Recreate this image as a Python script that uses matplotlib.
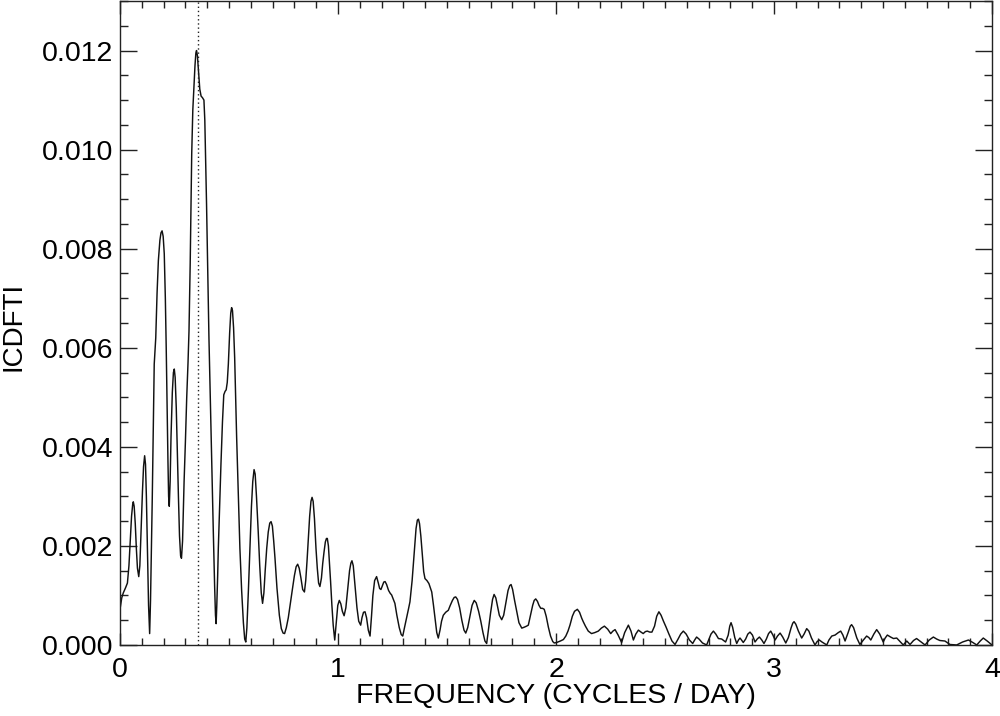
import matplotlib
matplotlib.use("Agg")
import matplotlib.pyplot as plt
from matplotlib.ticker import MultipleLocator, FormatStrFormatter

# ---- data (frequency in cycles/day, |CDFT|) ----
freq = [
    0.000, 0.008, 0.015, 0.025, 0.034, 0.041, 0.047, 0.053, 0.058, 0.061,
    0.065, 0.070, 0.075, 0.080, 0.086, 0.091, 0.096, 0.103, 0.108, 0.113,
    0.117, 0.121, 0.126, 0.131, 0.136, 0.140, 0.144, 0.148, 0.153, 0.157,
    0.164, 0.170, 0.176, 0.183, 0.188, 0.193, 0.198, 0.203, 0.208, 0.212,
    0.216, 0.220, 0.223, 0.226, 0.230, 0.234, 0.240, 0.245, 0.249, 0.253,
    0.258, 0.263, 0.268, 0.273, 0.278, 0.282, 0.287, 0.294, 0.300, 0.306,
    0.312, 0.3165, 0.322, 0.329, 0.334, 0.339, 0.344, 0.348, 0.351, 0.355,
    0.360, 0.366, 0.372, 0.378, 0.385, 0.389, 0.393, 0.397, 0.401, 0.405,
    0.408, 0.412, 0.416, 0.422, 0.428, 0.434, 0.438, 0.441, 0.444, 0.448,
    0.451, 0.457, 0.463, 0.470, 0.476, 0.482, 0.487, 0.492, 0.497, 0.503,
    0.508, 0.512, 0.516, 0.521, 0.526, 0.531, 0.535, 0.543, 0.550, 0.558,
    0.566, 0.572, 0.577, 0.582, 0.589, 0.596, 0.603, 0.609, 0.615, 0.620,
    0.626, 0.634, 0.641, 0.648, 0.654, 0.660, 0.666, 0.673, 0.680, 0.687,
    0.693, 0.699, 0.705, 0.711, 0.720, 0.731, 0.740, 0.748, 0.755, 0.763,
    0.772, 0.780, 0.790, 0.800, 0.808, 0.815, 0.822, 0.830, 0.838, 0.846,
    0.852, 0.858, 0.864, 0.870, 0.876, 0.881, 0.886, 0.892, 0.899, 0.905,
    0.911, 0.917, 0.924, 0.930, 0.936, 0.942, 0.947, 0.951, 0.956, 0.961,
    0.966, 0.972, 0.978, 0.985, 0.992, 0.999, 1.006, 1.013, 1.020, 1.028,
    1.036, 1.045, 1.053, 1.059, 1.064, 1.070, 1.078, 1.087, 1.095, 1.104,
    1.110, 1.117, 1.124, 1.131, 1.139, 1.147, 1.154, 1.160, 1.168, 1.177,
    1.185, 1.191, 1.197, 1.204, 1.210, 1.216, 1.223, 1.232, 1.240, 1.246,
    1.254, 1.261, 1.270, 1.281, 1.290, 1.297, 1.305, 1.315, 1.323, 1.330,
    1.340, 1.350, 1.358, 1.364, 1.369, 1.374, 1.380, 1.387, 1.393, 1.399,
    1.408, 1.417, 1.424, 1.430, 1.438, 1.446, 1.453, 1.460, 1.468, 1.475,
    1.483, 1.494, 1.506, 1.515, 1.525, 1.533, 1.540, 1.548, 1.558, 1.568,
    1.578, 1.586, 1.595, 1.605, 1.615, 1.625, 1.634, 1.645, 1.655, 1.665,
    1.674, 1.682, 1.690, 1.700, 1.709, 1.716, 1.724, 1.732, 1.740, 1.751,
    1.760, 1.770, 1.780, 1.788, 1.794, 1.801, 1.810, 1.820, 1.830, 1.843,
    1.855, 1.865, 1.873, 1.883, 1.893, 1.900, 1.907, 1.915, 1.922, 1.930,
    1.938, 1.946, 1.955, 1.965, 1.975, 1.985, 1.992, 2.003, 2.020, 2.034,
    2.045, 2.055, 2.064, 2.075, 2.085, 2.098, 2.108, 2.118, 2.125, 2.135,
    2.148, 2.163, 2.178, 2.194, 2.208, 2.222, 2.237, 2.251, 2.261, 2.271,
    2.285, 2.301, 2.315, 2.332, 2.344, 2.355, 2.366, 2.378, 2.390, 2.400,
    2.410, 2.419, 2.430, 2.440, 2.452, 2.462, 2.472, 2.482, 2.493, 2.505,
    2.518, 2.532, 2.546, 2.560, 2.572, 2.584, 2.597, 2.612, 2.627, 2.636,
    2.645, 2.656, 2.672, 2.691, 2.700, 2.711, 2.722, 2.733, 2.745, 2.760,
    2.778, 2.790, 2.797, 2.803, 2.810, 2.820, 2.829, 2.837, 2.844, 2.851,
    2.859, 2.870, 2.880, 2.890, 2.901, 2.913, 2.923, 2.933, 2.944, 2.954,
    2.965, 2.975, 2.985, 2.995, 3.005, 3.016, 3.028, 3.040, 3.054, 3.066,
    3.078, 3.086, 3.092, 3.100, 3.112, 3.127, 3.138, 3.150, 3.160, 3.172,
    3.188, 3.198, 3.208, 3.220, 3.242, 3.252, 3.265, 3.280, 3.295, 3.306,
    3.316, 3.326, 3.340, 3.350, 3.356, 3.365, 3.380, 3.394, 3.410, 3.425,
    3.435, 3.444, 3.458, 3.471, 3.485, 3.501, 3.510, 3.520, 3.535, 3.548,
    3.563, 3.578, 3.593, 3.609, 3.624, 3.640, 3.654, 3.672, 3.693, 3.712,
    3.731, 3.746, 3.761, 3.784, 3.807, 3.838, 3.865, 3.892, 3.912, 3.930,
    3.946, 3.960, 3.978, 4.000,
]

power = [
    0.00072, 0.00095, 0.00105, 0.00115, 0.00125, 0.00160, 0.00210, 0.00260, 0.00283, 0.00289,
    0.00280, 0.00245, 0.00195, 0.00155, 0.00138, 0.00160, 0.00225, 0.00310, 0.00360, 0.00382,
    0.00365, 0.00300, 0.00190, 0.00080, 0.00023, 0.00090, 0.00190, 0.00296, 0.00450, 0.00567,
    0.00620, 0.00710, 0.00776, 0.00817, 0.00832, 0.00836, 0.00825, 0.00790, 0.00700, 0.00600,
    0.00480, 0.00370, 0.00300, 0.00280, 0.00330, 0.00420, 0.00510, 0.00550, 0.00557, 0.00540,
    0.00480, 0.00390, 0.00300, 0.00220, 0.00180, 0.00175, 0.00210, 0.00330, 0.00410, 0.00499,
    0.00570, 0.00634, 0.00770, 0.00992, 0.01080, 0.01127, 0.01170, 0.01195, 0.01200, 0.01190,
    0.01160, 0.01122, 0.01108, 0.01105, 0.01100, 0.01060, 0.00979, 0.00890, 0.00790, 0.00690,
    0.00620, 0.00540, 0.00465, 0.00340, 0.00229, 0.00120, 0.00060, 0.00043, 0.00080, 0.00140,
    0.00195, 0.00280, 0.00364, 0.00450, 0.00505, 0.00512, 0.00515, 0.00530, 0.00567, 0.00630,
    0.00670, 0.00681, 0.00675, 0.00640, 0.00580, 0.00490, 0.00420, 0.00300, 0.00195, 0.00110,
    0.00045, 0.00012, 0.00006, 0.00035, 0.00110, 0.00195, 0.00280, 0.00330, 0.00354, 0.00345,
    0.00300, 0.00229, 0.00160, 0.00105, 0.00084, 0.00105, 0.00150, 0.00195, 0.00228, 0.00246,
    0.00249, 0.00240, 0.00210, 0.00175, 0.00115, 0.00060, 0.00033, 0.00024, 0.00023, 0.00035,
    0.00055, 0.00080, 0.00110, 0.00140, 0.00158, 0.00163, 0.00155, 0.00135, 0.00112, 0.00107,
    0.00130, 0.00170, 0.00215, 0.00260, 0.00290, 0.00298, 0.00290, 0.00255, 0.00195, 0.00155,
    0.00125, 0.00118, 0.00135, 0.00165, 0.00188, 0.00208, 0.00215, 0.00215, 0.00200, 0.00165,
    0.00128, 0.00080, 0.00040, 0.00010, 0.00045, 0.00080, 0.00090, 0.00083, 0.00068, 0.00059,
    0.00075, 0.00115, 0.00150, 0.00165, 0.00170, 0.00160, 0.00120, 0.00075, 0.00048, 0.00040,
    0.00055, 0.00066, 0.00067, 0.00055, 0.00030, 0.00018, 0.00060, 0.00100, 0.00130, 0.00138,
    0.00125, 0.00114, 0.00112, 0.00120, 0.00127, 0.00128, 0.00122, 0.00110, 0.00104, 0.00101,
    0.00092, 0.00084, 0.00060, 0.00035, 0.00021, 0.00018, 0.00035, 0.00055, 0.00072, 0.00087,
    0.00130, 0.00190, 0.00235, 0.00252, 0.00254, 0.00245, 0.00220, 0.00180, 0.00148, 0.00134,
    0.00130, 0.00124, 0.00115, 0.00107, 0.00080, 0.00050, 0.00025, 0.00014, 0.00030, 0.00048,
    0.00060, 0.00066, 0.00070, 0.00080, 0.00090, 0.00096, 0.00097, 0.00092, 0.00075, 0.00050,
    0.00030, 0.00024, 0.00035, 0.00058, 0.00080, 0.00090, 0.00085, 0.00068, 0.00048, 0.00025,
    0.00008, 0.00003, 0.00030, 0.00065, 0.00092, 0.00102, 0.00095, 0.00078, 0.00060, 0.00051,
    0.00060, 0.00085, 0.00110, 0.00120, 0.00122, 0.00112, 0.00090, 0.00067, 0.00045, 0.00034,
    0.00036, 0.00038, 0.00040, 0.00060, 0.00080, 0.00090, 0.00093, 0.00088, 0.00080, 0.00074,
    0.00074, 0.00072, 0.00058, 0.00036, 0.00018, 0.00007, 0.00004, 0.00005, 0.00008, 0.00011,
    0.00018, 0.00028, 0.00040, 0.00058, 0.00068, 0.00072, 0.00066, 0.00054, 0.00047, 0.00038,
    0.00028, 0.00023, 0.00025, 0.00028, 0.00034, 0.00038, 0.00032, 0.00023, 0.00028, 0.00031,
    0.00020, 0.00005, 0.00025, 0.00040, 0.00028, 0.00010, 0.00022, 0.00030, 0.00026, 0.00023,
    0.00027, 0.00028, 0.00026, 0.00026, 0.00038, 0.00058, 0.00067, 0.00060, 0.00048, 0.00036,
    0.00022, 0.00008, 0.00001, 0.00012, 0.00022, 0.00028, 0.00022, 0.00010, 0.00003, 0.00010,
    0.00016, 0.00012, 0.00004, 0.00000, 0.00010, 0.00022, 0.00028, 0.00022, 0.00013, 0.00012,
    0.00006, 0.00020, 0.00038, 0.00045, 0.00036, 0.00015, 0.00003, 0.00010, 0.00014, 0.00010,
    0.00005, 0.00012, 0.00022, 0.00026, 0.00020, 0.00006, 0.00012, 0.00016, 0.00010, 0.00003,
    0.00012, 0.00023, 0.00028, 0.00020, 0.00010, 0.00018, 0.00024, 0.00016, 0.00004, 0.00015,
    0.00034, 0.00044, 0.00047, 0.00042, 0.00028, 0.00014, 0.00022, 0.00033, 0.00028, 0.00014,
    0.00000, 0.00007, 0.00010, 0.00006, 0.00000, 0.00010, 0.00018, 0.00020, 0.00025, 0.00028,
    0.00020, 0.00008, 0.00025, 0.00038, 0.00041, 0.00035, 0.00014, 0.00001, 0.00010, 0.00018,
    0.00015, 0.00010, 0.00022, 0.00031, 0.00022, 0.00006, 0.00014, 0.00020, 0.00016, 0.00013,
    0.00014, 0.00007, 0.00000, 0.00008, 0.00001, 0.00009, 0.00013, 0.00007, 0.00000, 0.00010,
    0.00016, 0.00012, 0.00009, 0.00008, 0.00001, 0.00000, 0.00006, 0.00010, 0.00005, 0.00000,
    0.00008, 0.00014, 0.00008, 0.00000,
]

peak_freq = 0.358
x_ticks = [0, 1, 2, 3, 4]
y_ticks = [0.000, 0.002, 0.004, 0.006, 0.008, 0.010, 0.012]
x_label = "FREQUENCY (CYCLES / DAY)"
y_label = "ICDFTI"

plt.rcParams['font.family'] = ['Liberation Sans', 'DejaVu Sans']

fig = plt.figure(figsize=(10.0, 7.16), dpi=100)
ax = fig.add_axes([0.12, 0.0992, 0.872, 0.8994])

ax.plot(freq, power, color='#111111', lw=1.05, solid_joinstyle='round')
ax.axvline(peak_freq, color='#222222', lw=1.0, linestyle=(0, (1, 2)))

ax.set_xlim(0, 4)
ax.set_ylim(0, 0.013)
ax.set_xticks(x_ticks)
ax.set_yticks(y_ticks)
ax.xaxis.set_minor_locator(MultipleLocator(0.1))
ax.yaxis.set_minor_locator(MultipleLocator(0.0005))
ax.yaxis.set_major_formatter(FormatStrFormatter('%.3f'))
ax.xaxis.set_major_formatter(FormatStrFormatter('%d'))

ax.tick_params(which='both', direction='in', top=True, right=True, color='#222222', width=1.0)
ax.tick_params(axis='y', which='major', length=12, pad=5, labelsize=20.5)
ax.tick_params(axis='y', which='minor', length=6)
ax.tick_params(axis='x', which='major', length=9, pad=9, labelsize=20.5)
ax.tick_params(axis='x', which='minor', length=5)

for s in ax.spines.values():
    s.set_linewidth(1.0)
    s.set_color('#222222')

ax.set_xlabel(x_label, fontsize=20.5, labelpad=0)
ax.set_ylabel(y_label, fontsize=20)
# place the y label close to the left edge, as in the reference
ax.yaxis.set_label_coords(-0.1216, 0.494)
ax.yaxis.label.set_verticalalignment('center')

fig.savefig('out.png', dpi=100)
